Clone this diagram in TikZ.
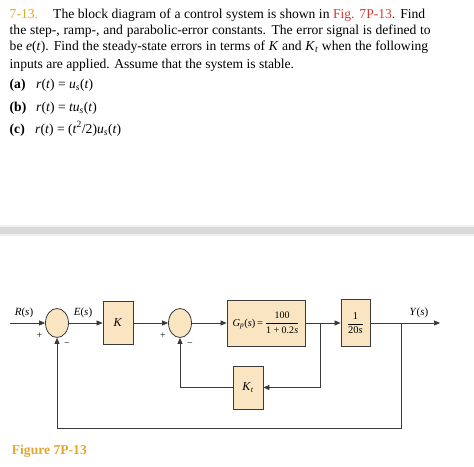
\documentclass[tikz,border=0pt]{standalone}
\usepackage{fontspec}
\setmainfont{Liberation Serif}
\usetikzlibrary{shapes.geometric,arrows.meta}
\definecolor{boxfill}{HTML}{F9E5C2}
\definecolor{gold}{HTML}{E2A82C}
\definecolor{figred}{HTML}{D8392F}
\definecolor{linec}{HTML}{3A3A3A}
\begin{document}
\begin{tikzpicture}[x=1pt,y=-1pt,
  blk/.style={draw=linec, fill=boxfill, line width=0.8pt, inner sep=0},
  sumn/.style={ellipse, draw=linec, fill=boxfill, line width=0.8pt, minimum width=23pt, minimum height=29pt, inner sep=0},
  sig/.style={line width=0.7pt, draw=linec},
  arr/.style={sig, -{Triangle[length=6pt,width=5pt]}},
  body/.style={anchor=base west, inner sep=0, font=\fontsize{13.6}{15}\selectfont},
  lab/.style={font=\fontsize{11}{12}\selectfont, inner sep=0},
  pm/.style={font=\fontsize{10}{11}\selectfont, inner sep=0}]
\useasboundingbox (0,0) rectangle (474,466);
\fill[white] (0,0) rectangle (474,466);
% problem text
\node[body] (t1) at (9.5,18.3) {\makebox[415.5pt][s]{\makebox[43.5pt][l]{\textcolor{gold}{7-13.}}The block diagram of a control system is shown in \textcolor{figred}{Fig. 7P-13}. Find}};
\node[body] (t2) at (9.5,34.5) {\makebox[421pt][s]{the step-, ramp-, and parabolic-error constants. The error signal is defined to}};
\node[body] (t3) at (9.5,50.5) {\makebox[418.5pt][s]{be \textit{e}(\textit{t}). Find the steady-state errors in terms of \textit{K} and \textit{K}\textsubscript{\textit{t}} when the following}};
\node[body] (t4) at (9.5,68) {inputs are applied. Assume that the system is stable.};
\node[body] (ia) at (9.5,88) {\makebox[26.5pt][l]{\textbf{(a)}}\textit{r}(\textit{t}) = \textit{u}\textsubscript{\textit{s}}(\textit{t})};
\node[body] (ib) at (9.5,111) {\makebox[26.5pt][l]{\textbf{(b)}}\textit{r}(\textit{t}) = \textit{tu}\textsubscript{\textit{s}}(\textit{t})};
\node[body] (ic) at (9.5,133) {\makebox[25.5pt][l]{\textbf{(c)}}\textit{r}(\textit{t}) = (\textit{t}\textsuperscript{2}/2)\textit{u}\textsubscript{\textit{s}}(\textit{t})};
% separator bar
\fill[gray!12] (0,224.5) rectangle (474,235.5);
\fill[gray!30] (0,226.5) rectangle (474,233.5);
% diagram
\node[sumn] (s1) at (57,323) {};
\node[blk, minimum width=30pt, minimum height=43pt] (K) at (118,323) {\fontsize{12}{13}\selectfont\textit{K}};
\node[sumn] (s2) at (180,323) {};
\node[blk, minimum width=78pt, minimum height=46pt] (G) at (266,323) {\fontsize{10.5}{12}\selectfont\textit{G}\textsubscript{\textit{p}}(\textit{s})\,=\,$\displaystyle\frac{\mbox{\fontsize{10}{11}\selectfont 100}}{\mbox{\fontsize{10}{11}\selectfont 1 + 0.2\textit{s}}}$};
\node[blk, minimum width=29pt, minimum height=47pt] (I) at (355.5,323) {$\displaystyle\frac{\mbox{\fontsize{10.5}{11}\selectfont 1}}{\mbox{\fontsize{10.5}{11}\selectfont 20\textit{s}}}$};
\node[blk, minimum width=30pt, minimum height=43pt] (Kt) at (248,387.5) {\fontsize{12}{13}\selectfont\textit{K}\textsubscript{\textit{t}}};
\coordinate (in) at (10,323);
\coordinate (out) at (440,323);
\coordinate (b1) at (320,323);
\coordinate (b2) at (401,323);
\coordinate (c1) at (320,387.5);
\coordinate (c2) at (180,387.5);
\coordinate (c3) at (401,428);
\coordinate (c4) at (57,428);
\draw[arr] (in) -- (s1);
\draw[arr] (s1) -- (K);
\draw[arr] (K) -- (s2);
\draw[arr] (s2) -- (G);
\draw[arr] (G) -- (I);
\draw[arr] (I) -- (out);
\draw[arr] (b1) -- (c1) -- (Kt);
\draw[arr] (Kt) -- (c2) -- (s2);
\draw[arr] (b2) -- (c3) -- (c4) -- (s1);
% labels
\node[lab] (lr) at (24,313) {\textit{R}(\textit{s})};
\node[lab] (le) at (83,313) {\textit{E}(\textit{s})};
\node[lab] (ly) at (419,313) {\textit{Y}(\textit{s})};
\node[pm] (p1) at (39.5,335.5) {+};
\node[pm] (m1) at (67,344.5) {\textminus};
\node[pm] (p2) at (163,335.5) {+};
\node[pm] (m2) at (190,344.5) {\textminus};
\node[anchor=base west, inner sep=0, font=\fontsize{13.6}{15}\selectfont\bfseries, text=gold] (fig) at (11.7,454) {Figure 7P-13};
\end{tikzpicture}
\end{document}
